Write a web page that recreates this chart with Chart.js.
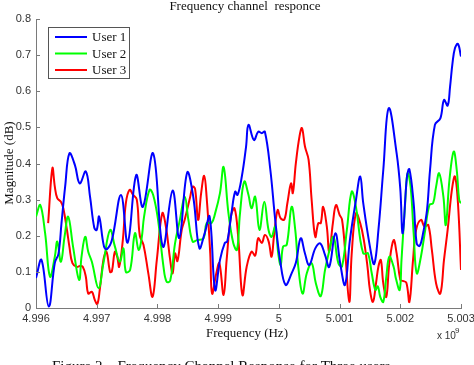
<!DOCTYPE html>
<html>
<head>
<meta charset="utf-8">
<script src="https://cdn.jsdelivr.net/npm/chart.js@4.4.0/dist/chart.umd.min.js"></script>
<style>
  html, body { margin: 0; padding: 0; background: #fff; }
  #wrap { position: relative; width: 474px; height: 365px; }
</style>
</head>
<body>
<div id="wrap"><canvas id="chart" width="474" height="365"></canvas></div>
<script>
// frequencies in units of 1e9 Hz, magnitudes in dB
const freq1 = [4.99600,4.99609,4.99621,4.99631,4.99637,4.99642,4.99648,4.99655,4.99664,4.99672,4.99682,4.99689,4.99696,4.99700,4.99704,4.99712,4.99717,4.99725,4.99740,4.99751,4.99765,4.99776,4.99793,4.99809,4.99825,4.99836,4.99849,4.99859,4.99869,4.99878,4.99886,4.99895,4.99903,4.99911,4.99915,4.99922,4.99928,4.99932,4.99939,4.99946,4.99950,4.99959,4.99966,4.99972,4.99977,4.99986,4.99994,5.00002,5.00011,5.00021,5.00028,5.00036,5.00043,5.00050,5.00060,5.00068,5.00076,5.00083,5.00093,5.00101,5.00109,5.00117,5.00127,5.00134,5.00139,5.00150,5.00157,5.00164,5.00172,5.00181,5.00194,5.00200,5.00204,5.00211,5.00215,5.00222,5.00227,5.00232,5.00238,5.00244,5.00249,5.00257,5.00266,5.00272,5.00278,5.00282,5.00286,5.00290,5.00295,5.00300];
const mag1 = [0.083,0.133,0.004,0.125,0.15,0.235,0.336,0.428,0.396,0.345,0.378,0.308,0.222,0.216,0.253,0.17,0.163,0.188,0.313,0.181,0.368,0.28,0.428,0.17,0.325,0.194,0.375,0.308,0.166,0.208,0.253,0.05,0.133,0.18,0.184,0.263,0.322,0.313,0.364,0.447,0.507,0.465,0.488,0.484,0.488,0.382,0.244,0.133,0.064,0.096,0.125,0.193,0.151,0.119,0.165,0.179,0.147,0.114,0.207,0.124,0.064,0.188,0.299,0.364,0.29,0.17,0.122,0.216,0.382,0.553,0.428,0.33,0.207,0.364,0.384,0.29,0.179,0.172,0.211,0.271,0.382,0.507,0.525,0.576,0.56,0.613,0.678,0.719,0.731,0.696];

const freq2 = [4.99600,4.99607,4.99615,4.99623,4.99631,4.99635,4.99641,4.99647,4.99653,4.99661,4.99671,4.99675,4.99681,4.99686,4.99692,4.99703,4.99711,4.99722,4.99730,4.99738,4.99744,4.99748,4.99755,4.99763,4.99769,4.99774,4.99778,4.99787,4.99793,4.99801,4.99810,4.99815,4.99821,4.99829,4.99837,4.99845,4.99851,4.99858,4.99865,4.99876,4.99881,4.99889,4.99895,4.99903,4.99909,4.99917,4.99925,4.99931,4.99936,4.99943,4.99950,4.99955,4.99961,4.99968,4.99976,4.99983,4.99988,4.99994,4.99999,5.00003,5.00007,5.00013,5.00021,5.00027,5.00032,5.00039,5.00046,5.00054,5.00061,5.00069,5.00076,5.00082,5.00090,5.00098,5.00104,5.00112,5.00120,5.00127,5.00134,5.00139,5.00142,5.00147,5.00153,5.00159,5.00163,5.00167,5.00172,5.00177,5.00182,5.00189,5.00193,5.00199,5.00202,5.00208,5.00212,5.00217,5.00222,5.00227,5.00234,5.00241,5.00248,5.00254,5.00259,5.00264,5.00271,5.00275,5.00281,5.00288,5.00293,5.00297,5.00300];
const mag2 = [0.253,0.285,0.207,0.087,0.142,0.184,0.128,0.197,0.253,0.17,0.078,0.142,0.197,0.156,0.128,0.055,0.124,0.216,0.17,0.128,0.165,0.1,0.105,0.207,0.161,0.193,0.253,0.327,0.313,0.244,0.114,0.073,0.075,0.179,0.244,0.308,0.244,0.184,0.188,0.193,0.235,0.235,0.262,0.318,0.39,0.262,0.179,0.161,0.262,0.35,0.313,0.276,0.308,0.216,0.294,0.216,0.197,0.225,0.151,0.119,0.17,0.175,0.28,0.216,0.114,0.04,0.096,0.124,0.068,0.033,0.105,0.151,0.197,0.124,0.115,0.216,0.322,0.28,0.19,0.151,0.15,0.151,0.096,0.05,0.06,0.031,0.017,0.087,0.142,0.114,0.08,0.05,0.133,0.29,0.373,0.336,0.207,0.096,0.142,0.216,0.285,0.29,0.336,0.373,0.308,0.23,0.355,0.433,0.382,0.299,0.29];

const freq3 = [4.99620,4.99627,4.99631,4.99635,4.99641,4.99645,4.99651,4.99655,4.99660,4.99667,4.99672,4.99677,4.99682,4.99686,4.99692,4.99697,4.99701,4.99705,4.99711,4.99716,4.99722,4.99725,4.99730,4.99734,4.99737,4.99743,4.99748,4.99754,4.99760,4.99766,4.99771,4.99777,4.99785,4.99792,4.99799,4.99808,4.99814,4.99821,4.99825,4.99829,4.99833,4.99840,4.99845,4.99854,4.99858,4.99862,4.99867,4.99872,4.99877,4.99881,4.99887,4.99890,4.99897,4.99902,4.99909,4.99914,4.99921,4.99927,4.99933,4.99940,4.99947,4.99955,4.99961,4.99966,4.99972,4.99977,4.99983,4.99988,4.99992,4.99998,5.00003,5.00009,5.00014,5.00020,5.00023,5.00028,5.00034,5.00038,5.00043,5.00049,5.00054,5.00060,5.00065,5.00069,5.00073,5.00079,5.00083,5.00089,5.00094,5.00100,5.00104,5.00109,5.00116,5.00120,5.00127,5.00134,5.00140,5.00146,5.00150,5.00155,5.00160,5.00164,5.00168,5.00172,5.00177,5.00182,5.00189,5.00194,5.00200,5.00204,5.00210,5.00215,5.00221,5.00226,5.00234,5.00240,5.00246,5.00252,5.00259,5.00266,5.00272,5.00278,5.00285,5.00290,5.00295,5.00300];
const mag3 = [0.235,0.387,0.336,0.304,0.294,0.276,0.216,0.17,0.124,0.114,0.116,0.114,0.087,0.04,0.045,0.022,0.011,0.05,0.133,0.156,0.1,0.102,0.156,0.14,0.114,0.188,0.29,0.327,0.313,0.30,0.2,0.175,0.096,0.031,0.133,0.262,0.225,0.133,0.096,0.151,0.13,0.216,0.245,0.308,0.336,0.33,0.244,0.318,0.366,0.308,0.151,0.04,0.096,0.124,0.036,0.133,0.253,0.276,0.197,0.036,0.114,0.156,0.145,0.193,0.18,0.202,0.185,0.142,0.2,0.271,0.248,0.245,0.29,0.345,0.318,0.401,0.475,0.498,0.447,0.41,0.299,0.197,0.235,0.235,0.28,0.225,0.156,0.235,0.285,0.258,0.245,0.161,0.017,0.151,0.262,0.235,0.188,0.114,0.05,0.017,0.068,0.115,0.133,0.068,0.031,0.124,0.188,0.151,0.078,0.075,0.07,0.017,0.133,0.216,0.244,0.225,0.23,0.161,0.068,0.04,0.133,0.216,0.327,0.364,0.29,0.105];

const seriesNames = ['User 1', 'User 2', 'User 3'];
const seriesColors = ['#0000ff', '#00ff00', '#ff0000'];
const xTicks = [4.996, 4.997, 4.998, 4.999, 5.000, 5.001, 5.002, 5.003];
const yTicks = [0, 0.1, 0.2, 0.3, 0.4, 0.5, 0.6, 0.7, 0.8];

const serif = "'Liberation Serif', 'Times New Roman', serif";
const sans = "'Liberation Sans', Arial, sans-serif";
const axisColor = '#7a7a7a';
const tickText = '#333333';

function toPoints(xs, ys) {
    return xs.map((x, i) => ({ x: x, y: ys[i] }));
}

const allSeries = [[freq1, mag1], [freq2, mag2], [freq3, mag3]];

// titles, inward tick marks and the boxed legend
const decor = {
    id: 'decor',
    afterDatasetsDraw(chart) {
        const ctx = chart.ctx;
        const area = chart.chartArea;
        const xs = chart.scales.x, ys = chart.scales.y;
        ctx.save();
        ctx.strokeStyle = axisColor;
        ctx.lineWidth = 1;
        ctx.beginPath();
        xTicks.forEach(v => {
            const px = Math.round(xs.getPixelForValue(v)) + 0.5;
            ctx.moveTo(px, area.bottom);
            ctx.lineTo(px, area.bottom - 4);
        });
        yTicks.forEach(v => {
            const py = Math.round(ys.getPixelForValue(v)) + 0.5;
            ctx.moveTo(area.left, py);
            ctx.lineTo(area.left + 4, py);
        });
        ctx.stroke();

        // legend
        const lx = 48, ly = 27, lw = 81, lh = 51;
        ctx.fillStyle = '#ffffff';
        ctx.fillRect(lx, ly, lw, lh);
        ctx.strokeStyle = '#555555';
        ctx.strokeRect(lx + 0.5, ly + 0.5, lw, lh);
        ctx.font = '13px ' + serif;
        ctx.textBaseline = 'middle';
        ctx.textAlign = 'left';
        seriesNames.forEach((name, i) => {
            const y = ly + 10 + i * 16.5;
            ctx.strokeStyle = seriesColors[i];
            ctx.lineWidth = 2;
            ctx.beginPath();
            ctx.moveTo(lx + 7, y);
            ctx.lineTo(lx + 39, y);
            ctx.stroke();
            ctx.fillStyle = '#111111';
            ctx.fillText(name, lx + 44, y + 1);
        });
        ctx.restore();
    },
    afterDraw(chart) {
        const ctx = chart.ctx;
        ctx.save();
        ctx.fillStyle = '#111111';
        ctx.textBaseline = 'alphabetic';
        ctx.font = '13px ' + serif;
        ctx.textAlign = 'center';
        ctx.fillText('Frequency channel  responce', 245, 10);
        ctx.fillText('Frequency (Hz)', 247, 337);

        ctx.save();
        ctx.translate(13, 163);
        ctx.rotate(-Math.PI / 2);
        ctx.fillText('Magnitude (dB)', 0, 0);
        ctx.restore();

        ctx.textAlign = 'left';
        ctx.font = '10px ' + sans;
        ctx.fillStyle = tickText;
        ctx.fillText('x 10', 437, 339);
        ctx.font = '8px ' + sans;
        ctx.fillText('9', 455, 333);

        ctx.fillStyle = '#111111';
        ctx.font = '15px ' + serif;
        ctx.fillText('Figure 2.   Frequency Channel Response for Three users', 52, 371);
        ctx.restore();
    }
};

const ctx = document.getElementById('chart').getContext('2d');
const chart = new Chart(ctx, {
    type: 'line',
    data: {
        datasets: allSeries.map((s, i) => ({
            label: seriesNames[i],
            data: toPoints(s[0], s[1]),
            borderColor: seriesColors[i],
            backgroundColor: seriesColors[i],
            borderWidth: 2,
            pointRadius: 0,
            tension: 0.4,
            fill: false
        }))
    },
    options: {
        responsive: false,
        animation: false,
        layout: { padding: { left: 0, top: 19, right: 13, bottom: 37 } },
        plugins: {
            legend: { display: false },
            title: { display: false },
            tooltip: { enabled: false }
        },
        scales: {
            x: {
                type: 'linear',
                min: 4.996,
                max: 5.003,
                afterBuildTicks(scale) { scale.ticks = xTicks.map(v => ({ value: v })); },
                afterFit(scale) { scale.height = 20; scale.paddingLeft = 0; scale.paddingRight = 0; },
                ticks: {
                    callback: v => String(Number(v.toFixed(3))),
                    font: { family: sans, size: 11 },
                    color: tickText,
                    padding: 4,
                    maxRotation: 0,
                    autoSkip: false
                },
                grid: { display: true, drawOnChartArea: false, drawTicks: false },
                border: { color: axisColor }
            },
            y: {
                min: 0,
                max: 0.8,
                afterBuildTicks(scale) { scale.ticks = yTicks.map(v => ({ value: v })); },
                afterFit(scale) { scale.width = 36; },
                ticks: {
                    callback: v => String(Number(v.toFixed(1))),
                    font: { family: sans, size: 11 },
                    color: tickText,
                    padding: 5
                },
                grid: { display: true, drawOnChartArea: false, drawTicks: false },
                border: { color: axisColor }
            }
        }
    },
    plugins: [decor]
});
</script>
</body>
</html>
